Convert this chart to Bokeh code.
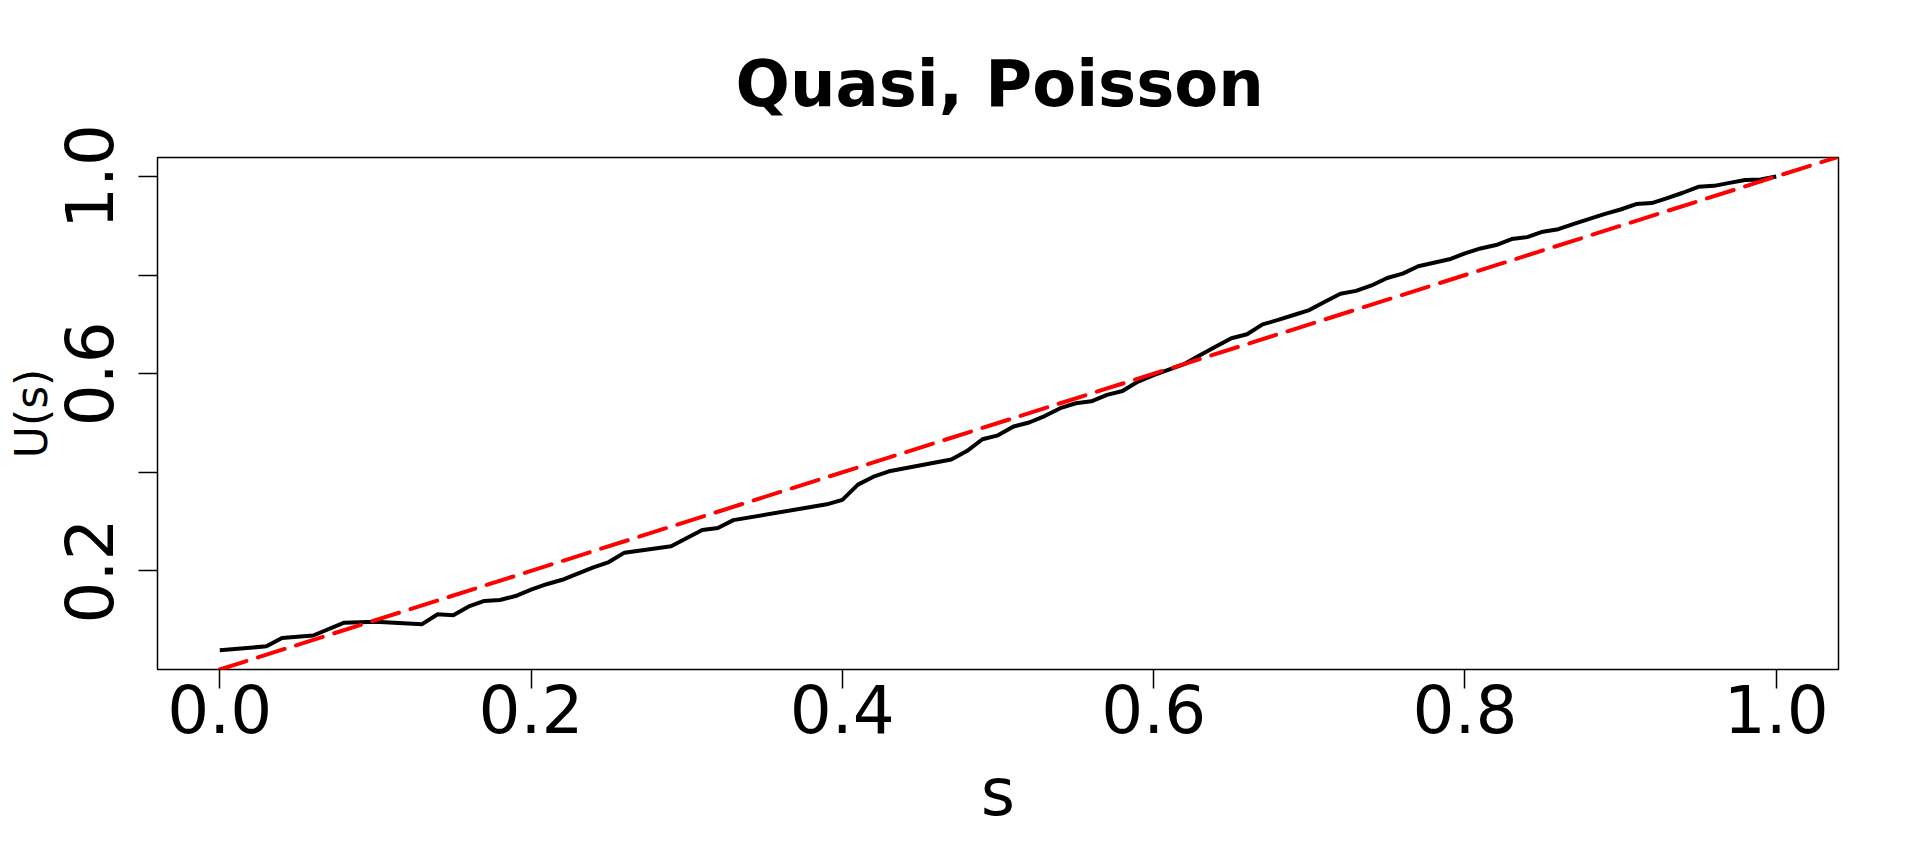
from bokeh.plotting import figure
from bokeh.models import Range1d, FixedTicker, PrintfTickFormatter, Slope
from bokeh.embed import file_html
from bokeh.resources import INLINE

s = [0.00, 0.03, 0.04, 0.06, 0.08, 0.10, 0.13, 0.14, 0.15, 0.16,
     0.17, 0.18, 0.19, 0.20, 0.21, 0.22, 0.24, 0.25, 0.26, 0.29,
     0.31, 0.32, 0.33, 0.39, 0.40, 0.41, 0.42, 0.43, 0.47, 0.48,
     0.49, 0.50, 0.51, 0.52, 0.53, 0.54, 0.55, 0.56, 0.57, 0.58,
     0.59, 0.60, 0.62, 0.63, 0.64, 0.65, 0.66, 0.67, 0.68, 0.69,
     0.70, 0.71, 0.72, 0.73, 0.74, 0.75, 0.76, 0.77, 0.78, 0.79,
     0.80, 0.81, 0.82, 0.83, 0.84, 0.85, 0.86, 0.87, 0.88, 0.89,
     0.90, 0.91, 0.92, 0.93, 0.94, 0.95, 0.96, 0.97, 0.98, 0.99,
     1.00]
U = [0.039, 0.047, 0.064, 0.069, 0.095, 0.097, 0.092, 0.112, 0.110, 0.128,
     0.139, 0.141, 0.149, 0.162, 0.173, 0.182, 0.207, 0.218, 0.237, 0.250,
     0.283, 0.287, 0.303, 0.335, 0.344, 0.375, 0.391, 0.402, 0.426, 0.443,
     0.467, 0.475, 0.493, 0.501, 0.514, 0.530, 0.540, 0.544, 0.557, 0.565,
     0.584, 0.597, 0.620, 0.638, 0.655, 0.672, 0.680, 0.700, 0.709, 0.719,
     0.729, 0.746, 0.762, 0.768, 0.779, 0.794, 0.803, 0.818, 0.825, 0.832,
     0.844, 0.854, 0.861, 0.873, 0.877, 0.888, 0.893, 0.904, 0.914, 0.924,
     0.933, 0.944, 0.946, 0.956, 0.967, 0.979, 0.981, 0.987, 0.993, 0.994,
     1.000]

x_ticks = [0.0, 0.2, 0.4, 0.6, 0.8, 1.0]
y_ticks = [0.2, 0.4, 0.6, 0.8, 1.0]
FONT = "DejaVu Sans"
FS = "66px"

p = figure(width=1904, height=849,
           x_range=Range1d(-0.04, 1.04), y_range=Range1d(0, 1.0385),
           output_backend="svg", toolbar_location=None,
           min_border_left=157, min_border_right=66,
           min_border_top=157, min_border_bottom=180,
           title="Quasi, Poisson")

p.title.text_font = FONT
p.title.text_font_size = "64px"
p.title.text_font_style = "bold"
p.title.text_color = "black"
p.title.align = "left"
p.title.offset = 578
p.title.standoff = 73

p.grid.visible = False
p.outline_line_color = "black"
p.outline_line_width = 1.5
p.background_fill_color = "white"
p.border_fill_color = "white"

for ax in (p.xaxis[0], p.yaxis[0]):
    ax.axis_line_color = None
    ax.major_tick_line_color = "black"
    ax.major_tick_line_width = 1.5
    ax.major_tick_out = 19
    ax.major_tick_in = 0
    ax.minor_tick_line_color = None
    ax.major_label_text_font = FONT
    ax.major_label_text_font_size = FS
    ax.major_label_text_color = "black"
    ax.axis_label_text_font = FONT
    ax.axis_label_text_font_style = "normal"
    ax.axis_label_text_color = "black"
    ax.formatter = PrintfTickFormatter(format="%.1f")

p.xaxis.ticker = FixedTicker(ticks=x_ticks)
p.xaxis.major_label_standoff = -5
p.xaxis.axis_label = "s"
p.xaxis.axis_label_text_font_size = FS
p.xaxis.axis_label_standoff = 18

p.yaxis.ticker = FixedTicker(ticks=y_ticks)
p.yaxis.major_label_orientation = "vertical"
p.yaxis.major_label_standoff = 25
p.yaxis.major_label_overrides = {0.4: "", 0.8: ""}
# the y title is squeezed into the strip left of the tick labels
p.yaxis.axis_label = "U(s)"
p.yaxis.axis_label_text_font_size = "44px"
p.yaxis.axis_label_standoff = 5

p.line(s, U, line_color="black", line_width=4)
p.add_layout(Slope(gradient=1, y_intercept=0, line_color="red",
                   line_width=4, line_dash="28 12", line_cap="round"))

open("out.html", "w").write(file_html(p, INLINE))
